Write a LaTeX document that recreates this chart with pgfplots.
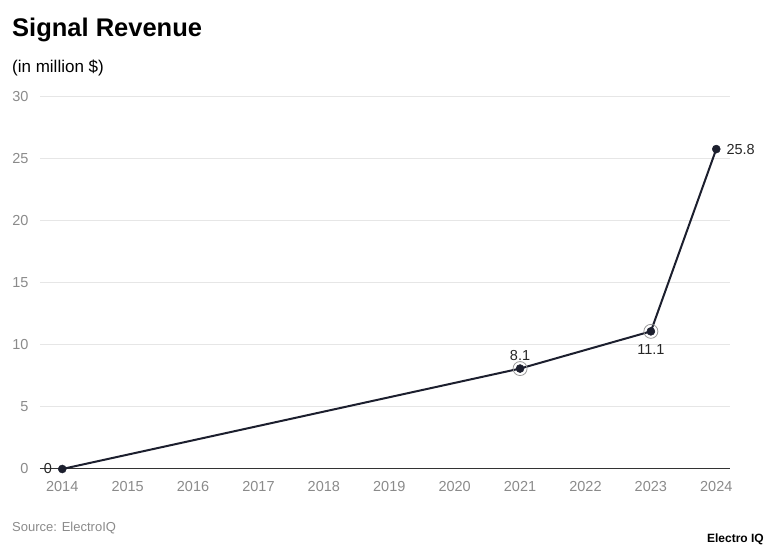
\documentclass[border=0pt]{standalone}
\usepackage{fontspec}
\setmainfont{Liberation Sans}
\usepackage{pgfplots}
\pgfplotsset{compat=1.18}
\definecolor{lineclr}{HTML}{1C1F2E}
\definecolor{gridclr}{HTML}{E6E6E6}
\definecolor{tickclr}{HTML}{8A8A8A}
\definecolor{ringclr}{HTML}{9A9A9A}
\begin{document}
\begin{tikzpicture}
% axis box: south west corner at (0,0), 690pt x 372pt; page is 767pt x 548pt
\path[use as bounding box] (-40pt,-79pt) rectangle (727pt,469pt);
\begin{axis}[
  at={(0pt,0pt)}, anchor=south west,
  scale only axis, width=690pt, height=372pt,
  xmin=-0.34, xmax=10.21, ymin=0, ymax=30,
  xtick={0,...,10},
  xticklabels={2014,2015,2016,2017,2018,2019,2020,2021,2022,2023,2024},
  ytick={0,5,...,30},
  ymajorgrids, grid style={gridclr, line width=1pt},
  axis x line*=bottom, axis y line*=left,
  x axis line style={-, color=black!80, line width=1pt},
  y axis line style={draw=none},
  major tick length=0pt,
  tick label style={font=\fontsize{14.5}{16}\selectfont, text=tickclr},
  xticklabel style={yshift=-9pt},
  yticklabel style={xshift=-8pt},
  /pgf/number format/assume math mode=true,
  clip=false,
  nodes near coords style={font=\fontsize{14.5}{16}\selectfont, text=black!85},
]
\addplot[ringclr, line width=0.8pt, only marks, mark=o, mark size=7pt]
  coordinates {(7,8.1) (9,11.1)};
\addplot[lineclr, line width=2pt, mark=*, mark size=4pt,
  mark options={fill=lineclr, draw=lineclr, line width=0.5pt},
  nodes near coords, point meta=explicit symbolic,
  visualization depends on={value \thisrow{pos} \as \lblpos},
  visualization depends on={\thisrow{sep} \as \lblsep},
  every node near coord/.append style={anchor=\lblpos, inner sep=\lblsep pt}]
  table[meta=lbl] {
x y lbl pos sep
0 0 0 east 10
7 8.1 8.1 south 8
9 11.1 11.1 north 13
10 25.8 25.8 west 10
};
\end{axis}
% titles and notes, positioned in page pixels (top-left origin at (-40pt,469pt))
\node[anchor=base west,inner sep=0pt,font=\bfseries\fontsize{25.5}{28}\selectfont] at (-28pt,432pt) {Signal Revenue};
\node[anchor=base west,inner sep=0pt,font=\fontsize{17}{19}\selectfont] at (-28pt,396pt) {(in million \$)};
\node[anchor=base west,inner sep=0pt,font=\fontsize{13}{15}\selectfont,text=tickclr] at (-28pt,-62pt) {Source: ElectroIQ};
\node[anchor=base east,inner sep=0pt,font=\bfseries\fontsize{12}{14}\selectfont] at (724pt,-73pt) {Electro IQ};
\end{tikzpicture}
\end{document}
